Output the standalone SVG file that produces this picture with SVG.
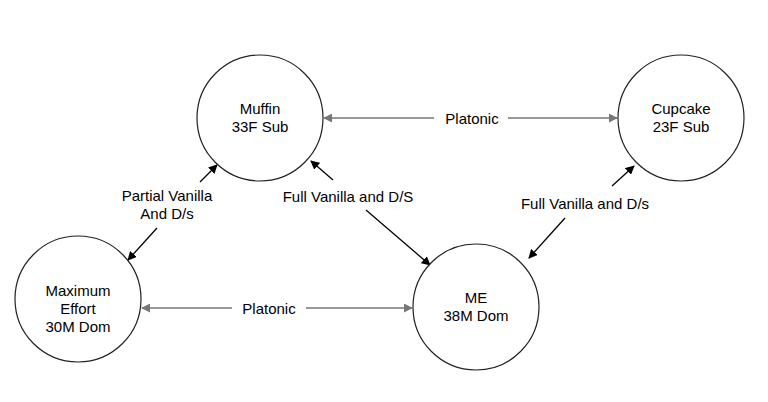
<svg xmlns="http://www.w3.org/2000/svg" width="768" height="402" viewBox="0 0 768 402">
<defs>
<marker id="ab" viewBox="0 0 10 10" refX="9" refY="5" markerWidth="9" markerHeight="9" markerUnits="userSpaceOnUse" orient="auto-start-reverse"><path d="M0,0L10,5L0,10z" fill="#000"/></marker>
<marker id="ag" viewBox="0 0 10 10" refX="9" refY="5" markerWidth="9" markerHeight="9" markerUnits="userSpaceOnUse" orient="auto-start-reverse"><path d="M0,0L10,5L0,10z" fill="#777"/></marker>
<style>
circle{fill:#fff;stroke:#222;stroke-width:1.2}
text{font-family:"Helvetica","Liberation Sans",Arial,sans-serif;font-size:15px;fill:#000;text-anchor:middle}
.b{stroke:#000;stroke-width:1.3;fill:none;marker-end:url(#ab)}
.g{stroke:#777;stroke-width:1.3;fill:none;marker-start:url(#ag);marker-end:url(#ag)}
</style>
</defs>
<rect width="768" height="402" fill="#fff"/>
<g id="connectors">
<path class="g" d="M324,118H617"/>
<rect x="434" y="108" width="74" height="20" fill="#fff"/>
<text x="472" y="124">Platonic</text>
<path class="g" d="M142,308H412"/>
<rect x="232" y="298" width="74" height="20" fill="#fff"/>
<text x="269" y="314">Platonic</text>
<path class="b" d="M200,182L217,165"/>
<path class="b" d="M157,228L128,260"/>
<text x="167" y="201">Partial Vanilla</text>
<text x="167" y="219">And D/s</text>
<path class="b" d="M333,180L311,161"/>
<path class="b" d="M366,210L430,265"/>
<text x="348" y="202">Full Vanilla and D/S</text>
<path class="b" d="M612,186L634,166"/>
<path class="b" d="M565,218L529,258"/>
<text x="585" y="209">Full Vanilla and D/s</text>
</g>
<g id="muffin"><circle cx="260" cy="118" r="63"/><text x="260" y="114">Muffin</text><text x="260" y="132">33F Sub</text></g>
<g id="cupcake"><circle cx="681" cy="118" r="63"/><text x="681" y="114">Cupcake</text><text x="681" y="132">23F Sub</text></g>
<g id="maxeffort"><circle cx="78" cy="299" r="63"/><text x="78" y="296">Maximum</text><text x="78" y="314">Effort</text><text x="78" y="332">30M Dom</text></g>
<g id="me"><circle cx="476" cy="307" r="63"/><text x="476" y="303">ME</text><text x="476" y="321">38M Dom</text></g>
</svg>
